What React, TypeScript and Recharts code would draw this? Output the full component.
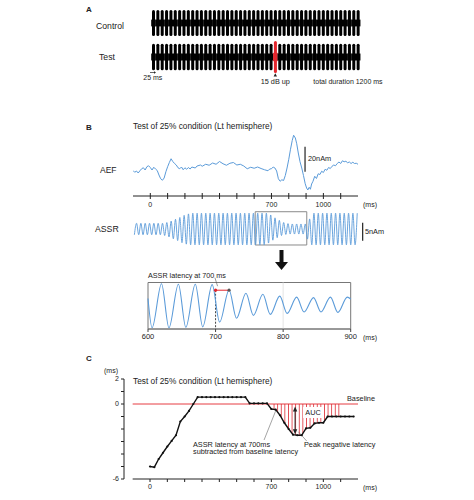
import React from 'react';
import {
  BarChart,
  Bar,
  LineChart,
  Line,
  ComposedChart,
  Area,
  XAxis,
  YAxis,
  ReferenceLine,
  ReferenceArea,
  ReferenceDot,
} from 'recharts';

const FONT = '"Liberation Sans", Arial, sans-serif';
const BLUE = '#5b9bd9';
const RED = '#e3262d';
const INK = '#222';

// A: stimulus trains, one 25 ms burst per slot
const burstOnsets = [
  0, 25, 50, 75, 100, 125, 150, 175, 200, 225, 250, 275, 300, 325, 350, 375,
  400, 425, 450, 475, 500, 525, 550, 575, 600, 625, 650, 675, 700, 725, 750, 775,
  800, 825, 850, 875, 900, 925, 950, 975, 1000, 1025, 1050, 1075, 1100, 1125, 1150, 1175,
];
const controlLevels = [
  1, 1, 1, 1, 1, 1, 1, 1, 1, 1, 1, 1, 1, 1, 1, 1,
  1, 1, 1, 1, 1, 1, 1, 1, 1, 1, 1, 1, 1, 1, 1, 1,
  1, 1, 1, 1, 1, 1, 1, 1, 1, 1, 1, 1, 1, 1, 1, 1,
];
const testLevels = [
  1, 1, 1, 1, 1, 1, 1, 1, 1, 1, 1, 1, 1, 1, 1, 1,
  1, 1, 1, 1, 1, 1, 1, 1, 1, 1, 1, 1, 1.2, 1, 1, 1,
  1, 1, 1, 1, 1, 1, 1, 1, 1, 1, 1, 1, 1, 1, 1, 1,
];

// B: AEF waveform (ms, nAm)
const aefTimes = [
  -100, -90, -80, -70, -60, -50, -40, -30, -20, -10, 0, 10, 20, 30, 40, 50, 60, 70, 80, 90,
  100, 110, 120, 130, 140, 150, 160, 170, 180, 190, 200, 210, 220, 230, 240, 260, 270, 290,
  300, 320, 340, 360, 380, 400, 420, 440, 460, 480, 500, 520, 540, 560, 580, 600, 620, 640,
  660, 680, 690, 700, 710, 720, 730, 740, 750, 760, 770, 780, 790, 800, 810, 820, 828, 838,
  846, 855, 865, 875, 885, 895, 903, 910, 918, 925, 932, 940, 950, 960, 970, 980, 990, 1000,
  1010, 1020, 1030, 1040, 1050, 1060, 1070, 1080, 1090, 1100, 1110, 1120, 1130, 1140, 1150,
  1160, 1170, 1180, 1190, 1200,
];
const aefValues = [
  -2.0, -3.4, -2.4, -4.0, -2.2, -0.6, 0.2, -1.6, 1.0, 1.8, 0.4, -1.6, 0.6, -0.8, -2.0, -5.6, -8.6, -9.8, -8.0, -3.0,
  1.0, 4.4, 7.4, 5.2, 3.6, 2.4, 0.2, -0.6, 0.8, -1.4, 0.2, -1.0, 0.4, -0.8, 0.8, 0.0, 1.6, 2.4,
  1.4, 3.0, 2.2, 4.0, 3.0, 5.2, 3.4, 2.2, 3.8, 4.4, 2.4, 3.0, 1.6, -0.6, 0.6, -0.2, 0.8, -0.4,
  -1.4, -2.2, -0.8, -0.6, 0.8, 0.0, -2.4, -8.6, -10.6, -9.4, -10.0, -6.0, 0.0, 7.0, 15.0, 22.0, 26.2, 24.0,
  19.4, 12.0, 5.0, 0.0, -6.0, -12.6, -16.0, -17.6, -15.4, -17.0, -12.8, -10.6, -6.6, -8.4, -4.6, -5.2, -2.6, -3.6,
  -1.0, -1.8, 0.4, -0.4, 1.4, 2.4, 1.8, 3.6, 4.8, 3.6, 5.8, 5.0, 5.4, 4.2, 4.8,
  3.6, 4.6, 3.6, 3.8, 3.0,
];

// B: ASSR, 40 Hz cycles and their amplitude (nAm)
const assrCycles = [
  -100, -75, -50, -25, 0, 25, 50, 75, 100, 125, 150, 175, 200, 225, 250, 275, 300, 325,
  350, 375, 400, 425, 450, 475, 500, 525, 550, 575, 600, 625, 650, 675, 700, 725, 750,
  775, 800, 825, 850, 875, 900, 925, 950, 975, 1000, 1025, 1050, 1075, 1100, 1125, 1150, 1175,
];
const assrEnvelope = [
  1.6, 1.6, 1.6, 1.6, 1.6, 1.6, 1.6, 1.8, 2.2, 2.7, 3.2, 3.8, 4.2, 4.4, 4.4, 4.4, 4.4, 4.4,
  4.4, 4.4, 4.4, 4.4, 4.4, 4.4, 4.4, 4.4, 4.4, 4.4, 4.4, 4.4, 4.4, 3.9, 3.1, 2.4, 1.8,
  1.5, 1.4, 1.4, 1.4, 1.4, 2.8, 4.4, 4.4, 4.4, 4.4, 4.4, 4.4, 4.4, 4.4, 4.4, 4.4, 4.4,
];

// B: enlarged ASSR 600-900 ms, extremes of the wave
const miniTimes = [
  600, 606, 620, 631, 645, 656, 670, 681, 695, 706, 720, 731, 745, 756, 770, 781, 795,
  806, 820, 831, 845, 856, 870, 881, 895, 900,
];
const miniValues = [
  1.5, -4.6, 4.6, -4.6, 4.5, -4.5, 4.5, -4.4, 4.4, -3.4, 3.3, -2.6, 2.6, -2.0, 2.4, -1.8, 2.0,
  -1.6, 1.8, -1.3, 1.7, -1.3, 1.8, -1.4, 1.8, 1.4,
];

// C: ASSR latency relative to baseline (ms)
const latencyTimes = [
  0, 25, 50, 75, 100, 125, 150, 175, 200, 225, 250, 275, 300, 325, 350, 375,
  400, 425, 450, 475, 500, 525, 550, 575, 600, 625, 650, 675, 700, 725, 750, 775,
  800, 825, 850, 875, 900, 925, 950, 975, 1000, 1025, 1050, 1075, 1100, 1125, 1150, 1175,
];
const latencyValues = [
  -5.0, -5.05, -4.4, -3.9, -3.4, -2.95, -2.5, -1.4, -1.0, -0.55, 0.0, 0.55, 0.55, 0.55, 0.55, 0.55,
  0.55, 0.55, 0.55, 0.55, 0.55, 0.55, 0.55, 0.05, 0.05, 0.05, 0.05, 0.05, -0.4, -0.45, -0.9, -1.5,
  -2.0, -2.45, -2.5, -2.5, -1.95, -1.9, -1.55, -1.5, -1.5, -1.0, -1.0, -1.0, -1.0, -1.0, -1.0, -1.0,
];
const aucRange = [700, 1100];

const msTicks = [0, 100, 200, 300, 400, 500, 600, 700, 800, 900, 1000, 1100];
const msLabels = [0, 700, 1000];
const miniTicks = [600, 700, 800, 900];
const latencyTicks = [-6, -5, -4, -3, -2, -1, 0, 1, 2];
const latencyLabels = [2, 0, -6];

const aefData = aefTimes.map((t, i) => ({ t, v: aefValues[i] }));
const assrData = assrCycles.flatMap((c, i) => [
  { t: c + 8, v: -assrEnvelope[i] },
  { t: c + 20.5, v: assrEnvelope[i] },
]);
const miniData = miniTimes.map((t, i) => ({ t, v: miniValues[i] }));
const latencyData = latencyTimes.map((t, i) => ({
  t,
  v: latencyValues[i],
  auc: t >= aucRange[0] && t <= aucRange[1] ? latencyValues[i] : null,
}));

const Burst = (props: any) => {
  const { x, y, width, height, payload } = props;
  const color = payload.level > 1 ? RED : '#000';
  const band = height * 0.26;
  return (
    <g fill={color}>
      <rect x={x} y={y} width={width} height={height} rx={width / 2} />
      <rect x={x - 0.8} y={y + height / 2 - band / 2} width={width + 1.6} height={band} />
    </g>
  );
};

function BurstRow({ levels, top, height, max }: { levels: number[]; top: number; height: number; max: number }) {
  const data = burstOnsets.map((onset, i) => ({ onset, level: levels[i], range: [-levels[i], levels[i]] }));
  return (
    <div style={{ position: 'absolute', left: 0, top, width: 474, height }}>
      <BarChart width={474} height={height} data={data} margin={{ top: 0, right: 114, bottom: 0, left: 151 }} barSize={3}>
        <XAxis dataKey="onset" hide />
        <YAxis hide domain={[-max, max]} />
        <Bar dataKey="range" isAnimationActive={false} shape={(p: any) => <Burst {...p} />} />
      </BarChart>
    </div>
  );
}

const CrossTick = (props: any) => {
  const { x, y, payload } = props;
  return (
    <g>
      <line x1={x} x2={x} y1={y - 3} y2={y + 3} stroke={INK} strokeWidth={1} />
      {msLabels.includes(payload.value) && (
        <text x={x} y={y + 10.5} textAnchor="middle" fontSize={7} fill={INK}>
          {payload.value}
        </text>
      )}
    </g>
  );
};

const arrowHead = (dir: number) => (p: any) => (
  <polygon
    points={`${p.cx},${p.cy} ${p.cx - 2.2},${p.cy + dir * 5} ${p.cx + 2.2},${p.cy + dir * 5}`}
    fill={INK}
  />
);

const T = ({ x, y, size = 7.3, bold = false, anchor = 'start', children }: any) => (
  <text x={x} y={y} fontSize={size} fontWeight={bold ? 'bold' : 'normal'} textAnchor={anchor} fill={INK}>
    {children}
  </text>
);

export default function App() {
  return (
    <div style={{ position: 'absolute', left: 0, top: 0, width: 474, height: 500, background: '#fff', fontFamily: FONT }}>
      <BurstRow levels={controlLevels} top={10} height={26} max={1} />
      <BurstRow levels={testLevels} top={40.7} height={32} max={1.2} />

      <div style={{ position: 'absolute', left: 0, top: 130 }}>
        <LineChart width={474} height={80} data={aefData} margin={{ top: 0, right: 116, bottom: 0, left: 133 }}>
          <XAxis
            dataKey="t"
            type="number"
            domain={[-100, 1200]}
            ticks={msTicks}
            interval={0}
            height={14}
            tickSize={0}
            tickMargin={0}
            tickLine={false}
            axisLine={{ stroke: INK }}
            tick={(p: any) => <CrossTick {...p} />}
            allowDataOverflow
          />
          <YAxis hide domain={[-22.4, 30.4]} allowDataOverflow />
          <ReferenceLine segment={[{ x: 894, y: 17 }, { x: 894, y: -3 }]} stroke={INK} strokeWidth={1.2} ifOverflow="visible" />
          <Line dataKey="v" type="linear" stroke={BLUE} strokeWidth={1} dot={false} isAnimationActive={false} />
        </LineChart>
      </div>

      <div style={{ position: 'absolute', left: 0, top: 205 }}>
        <LineChart width={474} height={45} data={assrData} margin={{ top: 0, right: 116, bottom: 0, left: 133 }}>
          <XAxis dataKey="t" type="number" domain={[-100, 1200]} hide />
          <YAxis hide domain={[-5.83, 6.67]} />
          <ReferenceArea x1={606} x2={904} y1={-4.44} y2={4.8} fill="none" stroke="#8a8a8a" strokeWidth={1} ifOverflow="visible" />
          <ReferenceLine segment={[{ x: 1227, y: 1.75 }, { x: 1227, y: -3.25 }]} stroke={INK} strokeWidth={1.2} ifOverflow="visible" />
          <Line dataKey="v" type="monotone" stroke={BLUE} strokeWidth={0.9} dot={false} isAnimationActive={false} />
        </LineChart>
      </div>

      <div style={{ position: 'absolute', left: 0, top: 270 }}>
        <LineChart width={474} height={75} data={miniData} margin={{ top: 12.5, right: 123.3, bottom: 0, left: 148 }}>
          <XAxis
            dataKey="t"
            type="number"
            domain={[600, 900]}
            ticks={miniTicks}
            interval={0}
            height={16}
            tickSize={3}
            axisLine={{ stroke: '#777' }}
            tickLine={{ stroke: '#444' }}
            tick={{ fontSize: 7.5, fill: INK }}
          />
          <YAxis hide domain={[-4.85, 4.85]} />
          <ReferenceArea x1={600} x2={900} y1={-4.85} y2={4.85} fill="none" stroke="#777" strokeWidth={1} />
          <ReferenceLine x={800} stroke="#e4e4e4" />
          <ReferenceLine segment={[{ x: 700, y: 3.24 }, { x: 700, y: -4.85 }]} stroke="#444" strokeDasharray="2 1.5" />
          <ReferenceLine segment={[{ x: 699, y: 5.86 }, { x: 703, y: 4.08 }]} stroke="#555" strokeWidth={0.6} ifOverflow="visible" />
          <Line dataKey="v" type="monotone" stroke={BLUE} strokeWidth={1.1} dot={false} isAnimationActive={false} />
          <ReferenceLine segment={[{ x: 700, y: 3.24 }, { x: 720, y: 3.24 }]} stroke={RED} strokeWidth={1} />
          <ReferenceDot x={700} y={3.24} r={1.6} fill={RED} stroke="none" />
          <ReferenceDot x={720} y={3.24} r={1.6} fill="#555" stroke="none" />
        </LineChart>
      </div>

      <div style={{ position: 'absolute', left: 0, top: 370 }}>
        <ComposedChart width={474} height={130} data={latencyData} margin={{ top: 9, right: 116, bottom: 0, left: 94 }}>
          <XAxis
            dataKey="t"
            type="number"
            domain={[-150, 1200]}
            ticks={msTicks}
            interval={0}
            height={21}
            tickSize={3}
            axisLine={false}
            tickLine={{ stroke: INK }}
            tick={{ fontSize: 7, fill: INK }}
            tickFormatter={(v: number) => (msLabels.includes(v) ? String(v) : '')}
          />
          <YAxis
            width={30}
            domain={[-6, 2]}
            ticks={latencyTicks}
            interval={0}
            tickSize={3}
            axisLine={{ stroke: INK }}
            tickLine={{ stroke: INK }}
            tick={{ fontSize: 7, fill: INK }}
            tickFormatter={(v: number) => (latencyLabels.includes(v) ? String(v) : '')}
          />
          <ReferenceLine segment={[{ x: -100, y: -6 }, { x: 1200, y: -6 }]} stroke={INK} ifOverflow="visible" />
          <Area dataKey="auc" type="linear" baseValue={0} fill="url(#aucHatch)" fillOpacity={1} stroke="none" isAnimationActive={false} />
          <ReferenceLine segment={[{ x: -100, y: 0 }, { x: 1200, y: 0 }]} stroke={RED} strokeWidth={0.9} />
          <ReferenceLine segment={[{ x: 837, y: -0.45 }, { x: 837, y: -2.2 }]} stroke={INK} strokeWidth={1} />
          <ReferenceDot x={837} y={-0.2} r={2} shape={arrowHead(1)} />
          <ReferenceDot x={837} y={-2.42} r={2} shape={arrowHead(-1)} />
          <ReferenceLine segment={[{ x: 904, y: -2.96 }, { x: 856, y: -2.22 }]} stroke="#666" strokeWidth={0.6} />
          <ReferenceLine segment={[{ x: 658, y: -2.88 }, { x: 727, y: -0.48 }]} stroke="#666" strokeWidth={0.6} />
          <Line
            dataKey="v"
            type="linear"
            stroke="#111"
            strokeWidth={1.4}
            dot={{ r: 1.1, fill: '#111', stroke: 'none' }}
            isAnimationActive={false}
          />
        </ComposedChart>
      </div>

      <svg width={474} height={500} style={{ position: 'absolute', left: 0, top: 0, pointerEvents: 'none' }}>
        <defs>
          <pattern id="aucHatch" patternUnits="userSpaceOnUse" width={3.6} height={10}>
            <rect x={0} y={0} width={0.9} height={10} fill="#e0434b" />
          </pattern>
        </defs>

        <T x={86} y={12.3} size={8} bold>A</T>
        <T x={96} y={29} size={8.7}>Control</T>
        <T x={99} y={59.8} size={8.7}>Test</T>
        <line x1={150} x2={155} y1={72.5} y2={72.5} stroke={INK} strokeWidth={0.7} />
        <polygon points="156,72.5 154,71.3 154,73.7" fill={INK} />
        <T x={143.3} y={80.3} size={7}>25 ms</T>
        <polygon points="275.3,73.2 277,76.6 273.6,76.6" fill={INK} />
        <T x={260.7} y={83.7}>15 dB up</T>
        <T x={313.3} y={83.7} size={7}>total duration 1200 ms</T>

        <T x={86} y={129.7} size={8} bold>B</T>
        <T x={133} y={129} size={8.3}>Test of 25% condition (Lt hemisphere)</T>
        <T x={100} y={173} size={8.5}>AEF</T>
        <T x={308} y={160.7}>20nAm</T>
        <T x={363} y={206.5} size={7}>(ms)</T>
        <T x={95} y={231.5} size={8.7}>ASSR</T>
        <T x={365} y={234.3}>5nAm</T>
        <polygon points="279.5,250 283.5,250 283.5,262 288,262 281.5,270 275,262 279.5,262" fill="#111" />
        <T x={148} y={277.6} size={7.2}>ASSR latency at 700 ms</T>
        <T x={363} y={340} size={7}>(ms)</T>

        <T x={86} y={361} size={8} bold>C</T>
        <T x={104} y={372.5} size={7}>(ms)</T>
        <T x={133} y={384} size={8.3}>Test of 25% condition (Lt hemisphere)</T>
        <T x={347} y={401}>Baseline</T>
        <rect x={303} y={407} width={20} height={11} fill="#fff" />
        <T x={313} y={415.3} anchor="middle">AUC</T>
        <T x={193} y={446.5}>ASSR latency at 700ms</T>
        <T x={193} y={454.3}>subtracted from baseline latency</T>
        <T x={304} y={447}>Peak negative latency</T>
        <T x={363} y={489.5} size={7}>(ms)</T>
      </svg>
    </div>
  );
}
